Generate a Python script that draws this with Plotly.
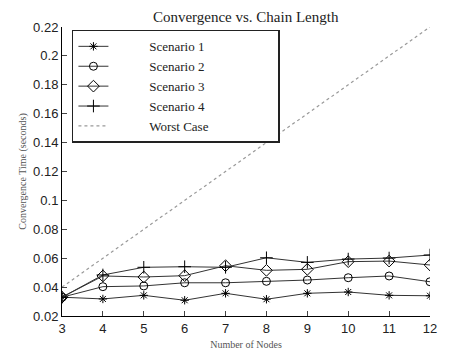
import plotly.graph_objects as go

nodes = [3, 4, 5, 6, 7, 8, 9, 10, 11, 12]
scenario1 = [0.033, 0.0318, 0.0343, 0.0309, 0.0357, 0.0316, 0.0357, 0.0366, 0.0343, 0.034]
scenario2 = [0.033, 0.0403, 0.0408, 0.043, 0.043, 0.044, 0.0449, 0.0465, 0.0477, 0.0437]
scenario3 = [0.033, 0.0477, 0.047, 0.0479, 0.0548, 0.0516, 0.0523, 0.0576, 0.058, 0.0553]
scenario4 = [0.033, 0.0484, 0.0537, 0.0541, 0.0537, 0.0603, 0.0571, 0.0594, 0.0601, 0.0622]
worst_case = [0.04, 0.06, 0.08, 0.10, 0.12, 0.14, 0.16, 0.18, 0.20, 0.22]

y_ticks = [0.02, 0.04, 0.06, 0.08, 0.1, 0.12, 0.14, 0.16, 0.18, 0.2, 0.22]
y_tick_labels = ["0.02", "0.04", "0.06", "0.08", "0.1", "0.12", "0.14", "0.16", "0.18", "0.2", "0.22"]

serif = "Liberation Serif"
sans = "Liberation Sans"
line_col = "#333333"
pad_l = "\u00a0" * 11
pad_r = "\u00a0" * 20

fig = go.Figure()
series = [
    ("Scenario 1", scenario1, "asterisk-open", 7),
    ("Scenario 2", scenario2, "circle-open", 8),
    ("Scenario 3", scenario3, "diamond-open", 9),
    ("Scenario 4", scenario4, "cross-thin-open", 9),
]
for name, vals, sym, size in series:
    fig.add_trace(go.Scatter(
        x=nodes, y=vals, name=pad_l + name + pad_r, mode="lines+markers",
        line=dict(color=line_col, width=1),
        marker=dict(symbol=sym, size=size, color="black", line=dict(color="black", width=1)),
    ))
fig.add_trace(go.Scatter(
    x=nodes, y=worst_case, name=pad_l + "Worst Case" + pad_r, mode="lines",
    line=dict(color="#999999", width=1.2, dash="dot"),
))

# page has an 8px body margin, so the figure is 466x347 placed at (8, 8)
fig.update_layout(
    width=466, height=347,
    margin=dict(l=54, r=44, t=19, b=39),
    paper_bgcolor="white", plot_bgcolor="white",
    title=dict(text="Convergence vs. Chain Length", x=0.51, xanchor="center", y=0.976, yanchor="middle",
               font=dict(family=serif, size=15, color="#222222")),
    showlegend=True,
    legend=dict(x=0.027, y=0.99, xanchor="left", yanchor="top",
                bordercolor="#222222", borderwidth=1.5, bgcolor="white",
                font=dict(family=serif, size=13, color="#222222"),
                tracegroupgap=0),
    xaxis=dict(range=[3, 12], tickvals=nodes, ticks="inside", ticklen=5, automargin=False,
               showline=True, linecolor="black", linewidth=1, showgrid=False, zeroline=False,
               tickfont=dict(family=sans, size=13, color="#222222"),
               title=dict(text="Number of Nodes", font=dict(family=serif, size=10, color="#555555"), standoff=6)),
    yaxis=dict(range=[0.02, 0.22], tickvals=y_ticks, ticktext=y_tick_labels, ticks="inside", ticklen=5,
               automargin=False,
               showline=True, linecolor="black", linewidth=1, showgrid=False, zeroline=False,
               tickfont=dict(family=sans, size=13, color="#222222"),
               title=dict(text="Convergence Time (seconds)", font=dict(family=serif, size=10, color="#555555"), standoff=4)),
)

fig.write_html("out.html")
